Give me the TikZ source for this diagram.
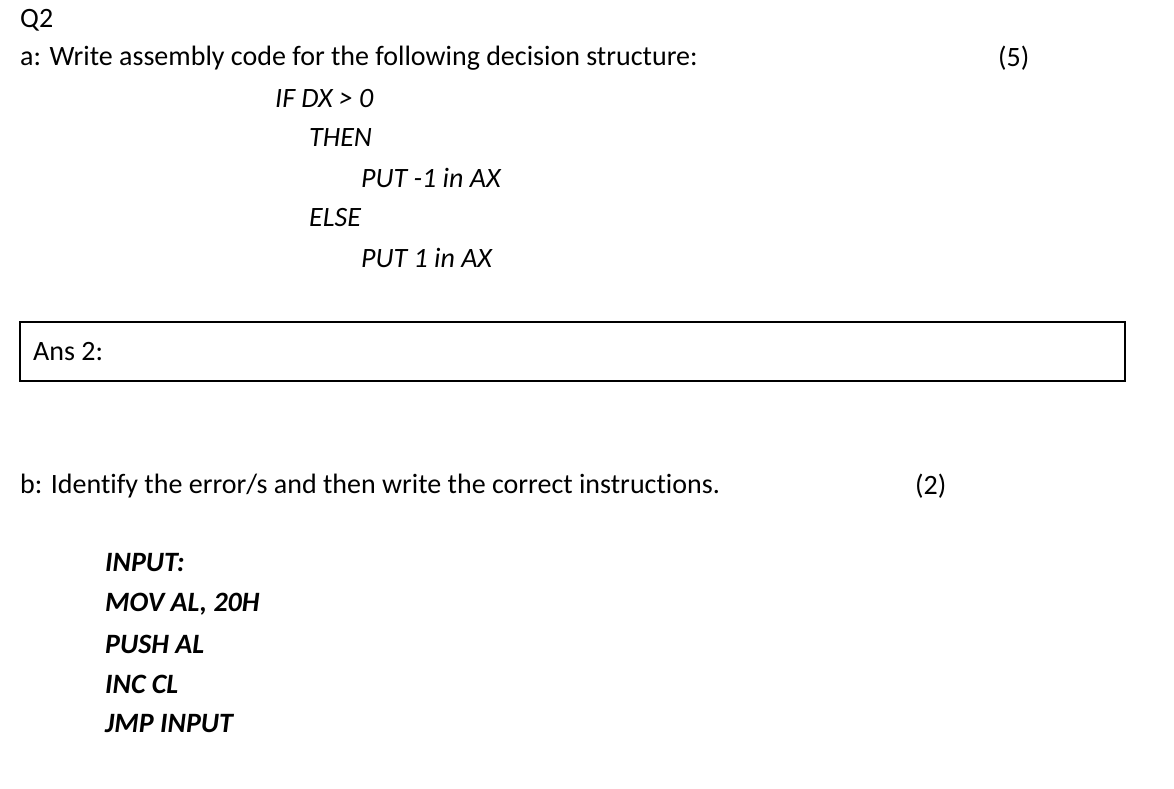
\documentclass[tikz,border=0pt]{standalone}
\usepackage{fontspec}
\setmainfont[Ligatures=NoCommon]{Carlito}
\begin{document}
\begin{tikzpicture}[x=1pt,y=-1pt,every node/.style={anchor=west,inner sep=0pt,font=\fontsize{28}{30}\selectfont},
 it/.style={font=\fontsize{28}{30}\selectfont\itshape},
 bi/.style={font=\fontsize{28}{30}\selectfont\bfseries\itshape}]
\useasboundingbox[fill=white] (0,0) rectangle (1174,788);
\node (q) at (20,20) {Q2};
\node (a) at (20,58) {a: Write assembly code for the following decision structure:};
\node (m5) at (998,58) {(5)};
\node[it] (if) at (275,99) {IF DX > 0};
\node[it] (then) at (309,138) {THEN};
\node[it] (p1) at (361,178) {PUT -1 in AX};
\node[it] (else) at (309,218) {ELSE};
\node[it] (p2) at (361,258) {PUT 1 in AX};
\draw[line width=1.5pt] (20,322) rectangle (1125,381);
\node (ans) at (33,352) {Ans 2:};
\node (b) at (20,486) {b: Identify the error/s and then write the correct instructions.};
\node (m2) at (915,486) {(2)};
\node[bi] (i1) at (105,563) {INPUT:};
\node[bi] (i2) at (105,604) {MOV AL, 20H};
\node[bi] (i3) at (105,644) {PUSH AL};
\node[bi] (i4) at (105,684) {INC CL};
\node[bi] (i5) at (105,724) {JMP INPUT};
\end{tikzpicture}
\end{document}
